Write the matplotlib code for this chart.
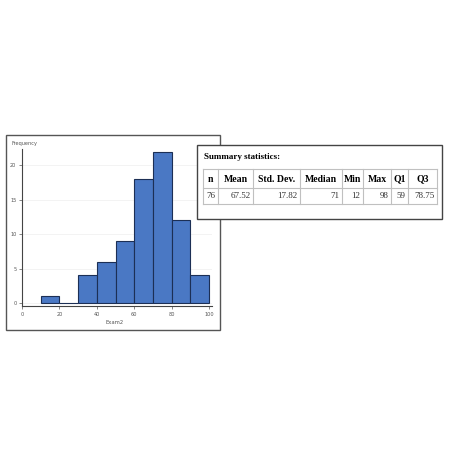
import matplotlib
matplotlib.use("Agg")
import matplotlib.pyplot as plt
from matplotlib.patches import Rectangle
import numpy as np

# Data
bin_edges = [10, 20, 30, 40, 50, 60, 70, 80, 90, 100]
counts = [1, 0, 4, 6, 9, 18, 22, 12, 4]
x_ticks = [0, 20, 40, 60, 80, 100]
y_ticks = [0, 5, 10, 15, 20]
x_label = "Exam2"
y_label = "Frequency"

stat_headers = ["n", "Mean", "Std. Dev.", "Median", "Min", "Max", "Q1", "Q3"]
stat_values = ["76", "67.52", "17.82", "71", "12", "98", "59", "78.75"]

W = H = 450
fig = plt.figure(figsize=(4.5, 4.5), dpi=100)

def fx(px):
    return px / W

def fy(py):
    return 1 - py / H

# Left panel box
left_box = Rectangle((fx(6), fy(330)), fx(220) - fx(6), fy(135) - fy(330),
                     transform=fig.transFigure, facecolor="white",
                     edgecolor="#555555", lw=1.0, zorder=-5)
fig.patches.append(left_box)

ax = fig.add_axes([fx(22), fy(306), fx(212) - fx(22), fy(149) - fy(306)])
ax.set_zorder(1)
ax.set_facecolor("none")
lefts = np.array(bin_edges[:-1])
widths = np.diff(bin_edges)
ax.bar(lefts, counts, width=widths, align="edge", color="#4a78c4",
       edgecolor="#1c2f55", linewidth=0.8, zorder=3)
ax.set_xlim(0, 101.6)
ax.set_ylim(-0.45, 22.4)
ax.set_xticks(x_ticks)
ax.set_yticks(y_ticks)
ax.tick_params(labelsize=3.6, colors="#555555", length=2, width=0.5, pad=2)
ax.yaxis.grid(True, color="#eeeeee", lw=0.5, zorder=0)
for s in ["top", "right"]:
    ax.spines[s].set_visible(False)
for s in ["left", "bottom"]:
    ax.spines[s].set_color("#444444")
    ax.spines[s].set_linewidth(0.8)
fig.text(fx(12), fy(144), y_label, fontsize=3.6, color="#555555", va="center", ha="left")
fig.text(fx(115), fy(322), x_label, fontsize=3.8, color="#555555", va="center", ha="center")

# Right panel: summary statistics
right_box = Rectangle((fx(197), fy(219)), fx(442) - fx(197), fy(145) - fy(219),
                      transform=fig.transFigure, facecolor="white",
                      edgecolor="#444444", lw=1.0, zorder=5)
fig.patches.append(right_box)
fig.text(fx(204), fy(157), "Summary statistics:", fontsize=6.5, fontweight="bold",
         family="Liberation Serif", va="center", ha="left", zorder=6)

col_edges = [203, 218, 253, 300, 342, 363, 391, 408, 437]
row_edges = [169, 188, 204]
tkw = dict(transform=fig.transFigure, color="#c0c0c0", lw=0.8, zorder=6)
for x in col_edges:
    fig.add_artist(plt.Line2D([fx(x), fx(x)], [fy(row_edges[0]), fy(row_edges[-1])], **tkw))
for y in row_edges:
    fig.add_artist(plt.Line2D([fx(col_edges[0]), fx(col_edges[-1])], [fy(y), fy(y)], **tkw))
for i, (h, v) in enumerate(zip(stat_headers, stat_values)):
    l, r = col_edges[i], col_edges[i + 1]
    fig.text(fx((l + r) / 2), fy((row_edges[0] + row_edges[1]) / 2 + 0.5), h,
             fontsize=7, fontweight="bold", family="Liberation Serif",
             ha="center", va="center", zorder=7)
    fig.text(fx(r - 2.5), fy((row_edges[1] + row_edges[2]) / 2 + 0.5), v,
             fontsize=6.5, family="Liberation Serif", color="#333333",
             ha="right", va="center", zorder=7)

fig.savefig("out.png", dpi=100)
